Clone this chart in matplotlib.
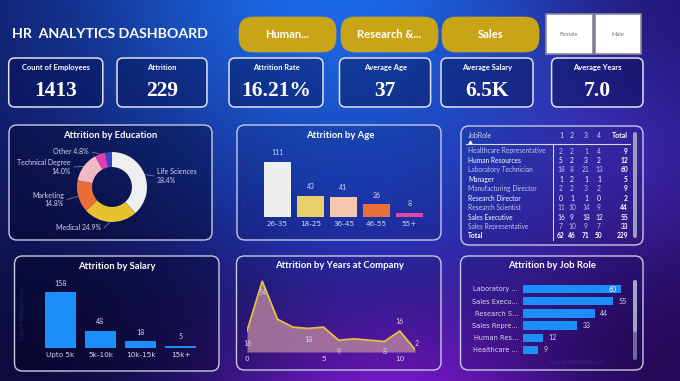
import numpy as np
import matplotlib
matplotlib.use("Agg")
import matplotlib.pyplot as plt
from matplotlib.patches import FancyBboxPatch
from matplotlib import font_manager

W, H = 680, 381

# ---- data ----
kpi_labels = ["Count of Employees", "Attrition", "Attrition Rate",
              "Average Age", "Average Salary", "Average Years"]
kpi_values = ["1413", "229", "16.21%", "37", "6.5K", "7.0"]
departments = ["Human...", "Research &...", "Sales"]
genders = ["Female", "Male"]

edu_labels = ["Life Sciences", "Medical", "Marketing", "Technical Degree", "Other", "Human Resources"]
edu_pct = [38.4, 24.9, 14.8, 14.0, 4.8, 3.1]

age_groups = ["26-35", "18-25", "36-45", "46-55", "55+"]
age_attrition = [111, 43, 41, 26, 8]

salary_bands = ["Upto 5k", "5k-10k", "10k-15k", "15k+"]
salary_attrition = [158, 48, 18, 5]

years = [0, 1, 2, 3, 4, 5, 6, 7, 8, 9, 10, 11]
years_attrition = [16, 54, 25, 19, 18, 19, 9, 10, 9, 8, 16, 2]
years_labelled = [0, 1, 4, 6, 9, 10, 11]

table_roles = ["Healthcare Representative", "Human Resources", "Laboratory Technician",
               "Manager", "Manufacturing Director", "Research Director",
               "Research Scientist", "Sales Executive", "Sales Representative"]
level1 = [2, 5, 18, 1, 2, 0, 11, 16, 7]
level2 = [2, 2, 8, 2, 2, 1, 10, 9, 10]
level3 = [1, 3, 21, 1, 3, 1, 14, 18, 9]
level4 = [4, 2, 13, 1, 2, 0, 9, 12, 7]

job_short = ["Laboratory ...", "Sales Execu...", "Research S...", "Sales Repre...",
             "Human Res...", "Healthcare ..."]
job_attrition = [60, 55, 44, 33, 12, 9]

# ---- fonts ----
names = {f.name for f in font_manager.fontManager.ttflist}
NARROW = "Liberation Sans Narrow" if "Liberation Sans Narrow" in names else "Lato"
SANS = "Lato"
SERIF = "Liberation Serif"
LIGHT = "#d4d6ee"

fig = plt.figure(figsize=(6.8, 3.81), dpi=100)
bg = fig.add_axes([0, 0, 1, 1])
bg.set_xlim(0, W)
bg.set_ylim(H, 0)
bg.axis("off")

# background gradient
yy, xx = np.mgrid[0:H, 0:W].astype(float)
img = np.zeros((H, W, 3))
img[:] = np.array([16, 24, 98]) / 255


def blend(img, cx, cy, sx, sy, color, k=1.0):
    w = k * np.exp(-(((xx - cx) / sx) ** 2 + ((yy - cy) / sy) ** 2))
    c = np.array(color) / 255
    return img * (1 - w[..., None]) + c * w[..., None]


img = blend(img, 600, 170, 170, 190, (72, 38, 185))
img = blend(img, 350, 200, 170, 110, (30, 45, 185), 0.75)
img = blend(img, 390, 405, 230, 120, (130, 22, 210))
img = blend(img, 330, -10, 250, 210, (28, 105, 232))
img = blend(img, 0, 381, 230, 170, (14, 12, 62))
img = blend(img, 690, 381, 170, 170, (38, 8, 88))
img = blend(img, 690, 0, 120, 120, (35, 20, 120), 0.8)
bg.imshow(img, extent=(0, W, H, 0), aspect="auto", zorder=0)


def box(x0, y0, x1, y1, r=8, fc=(0, 0, 0.12, 0.3), ec="#c8cbe0", lw=1.0, z=1):
    p = FancyBboxPatch((x0, y0), x1 - x0, y1 - y0,
                       boxstyle=f"round,pad=0,rounding_size={r}",
                       fc=fc, ec=ec, lw=lw, zorder=z)
    bg.add_patch(p)


def px_axes(x0, y0, x1, y1):
    ax = fig.add_axes([x0 / W, 1 - y1 / H, (x1 - x0) / W, (y1 - y0) / H])
    ax.patch.set_alpha(0)
    for s in ax.spines.values():
        s.set_visible(False)
    return ax


# ---- header ----
bg.text(12, 34, "HR  ANALYTICS DASHBOARD", color="white", fontsize=10.2,
        fontweight="bold", family=NARROW, va="center", ha="left")

btn_x = [(239, 336), (341, 438), (442, 539)]
for (x0, x1), name in zip(btn_x, departments):
    box(x0, 17, x1, 52, r=14, fc="#c8a516", ec="#c8a516", lw=0.5)
    bg.text((x0 + x1) / 2, 35, name, color="white", fontsize=8, fontweight="bold",
            family=NARROW, ha="center", va="center")

for (x0, x1), g in zip([(545.5, 593), (594.5, 640.5)], genders):
    bg.add_patch(FancyBboxPatch((x0, 14), x1 - x0, 40, boxstyle="square,pad=0",
                                fc="white", ec="#8a8a9a", lw=1.2, zorder=2))
    bg.text((x0 + x1) / 2, 35, g, color="#777777", fontsize=4.2, family=SANS,
            ha="center", va="center", zorder=3)

# ---- KPI cards ----
card_x = [(8.7, 102.8), (117, 207), (229, 323), (339.5, 430.6), (441, 533), (551.6, 643)]
for (x0, x1), lab, val in zip(card_x, kpi_labels, kpi_values):
    box(x0, 58, x1, 107, r=6, fc=(0.02, 0.05, 0.3, 0.45), ec="#dfe1ef", lw=1.1)
    bg.text((x0 + x1) / 2, 67.5, lab, color="white", fontsize=5.4, fontweight="bold",
            family=NARROW, ha="center", va="center")
    bg.text((x0 + x1) / 2, 91.5, val, color="white", fontsize=15.5, fontweight="bold",
            family=SERIF, ha="center", va="center")

# ---- panels ----
panels = [(9, 125, 212, 240), (237, 125, 441, 240), (461, 126, 643, 245),
          (14.5, 256, 219, 371), (236.5, 256, 441, 370), (460.5, 256, 643, 370)]
panel_fill = [(0, 0, 0.1, 0.35), (0, 0, 0.1, 0.12), (0, 0, 0.1, 0.08),
              (0, 0, 0.1, 0.35), (0, 0, 0.1, 0.12), (0, 0, 0.1, 0.12)]
for p, fc in zip(panels, panel_fill):
    box(*p, r=8, fc=fc, ec="#c6c9e2", lw=1.0)

titles = [("Attrition by Education", 110.5, 135), ("Attrition by Age", 340, 136),
          ("Attrition by Salary", 117, 266.5), ("Attrition by Years at Company", 339, 265.5),
          ("Attrition by Job Role", 552, 266)]
for t, x, y in titles:
    bg.text(x, y, t, color="white", fontsize=6.8, fontweight="bold", family=NARROW,
            ha="center", va="center")

# ---- education donut ----
edu_colors = ["#efeff2", "#e8c22e", "#ea6e35", "#f3b9c3", "#df3fae", "#3446c4"]
cx, cy, R = 112, 187, 35
axd = px_axes(cx - 40, cy - 40, cx + 40, cy + 40)
axd.pie(edu_pct, colors=edu_colors, startangle=90, counterclock=False, radius=1,
        wedgeprops=dict(width=0.43, edgecolor="none"))
axd.set_xlim(-1.143, 1.143)
axd.set_ylim(-1.143, 1.143)

edu_text_pos = [(157, 176, "left"), (101, 228, "right"), (64, 199.5, "right"),
                (71, 167, "right"), (89, 152, "right")]
cum = 0
for i, pct in enumerate(edu_pct):
    mid = np.deg2rad(90 - 3.6 * (cum + pct / 2))
    cum += pct
    if i >= len(edu_text_pos):
        continue
    tx, ty, ha = edu_text_pos[i]
    ex, ey = cx + R * np.cos(mid), cy - R * np.sin(mid)
    lx = tx - 3 if ha == "left" else tx + 3
    bg.plot([lx, ex], [ty, ey], color="#8a8cb0", lw=0.5, zorder=2)
    if edu_labels[i] in ("Medical", "Other"):
        s = f"{edu_labels[i]} {pct:.1f}%"
    else:
        s = f"{edu_labels[i]}\n{pct:.1f}%"
    bg.text(tx, ty, s, color=LIGHT, fontsize=5, family=SANS, ha=ha, va="center",
            linespacing=1.2, multialignment=ha)

# ---- attrition by age ----
age_colors = ["#eeeeef", "#e9d06a", "#f7c6ae", "#e9703a", "#e446a6"]
axa = px_axes(261, 150, 426, 217)
xa = np.arange(len(age_groups))
axa.bar(xa, age_attrition, width=0.79, color=age_colors)
axa.set_xlim(-0.5, len(age_groups) - 0.5)
axa.set_ylim(0, 135.2)
for x, v in zip(xa, age_attrition):
    axa.annotate(str(v), (x, v), xytext=(0, 4), textcoords="offset points",
                 ha="center", va="bottom", color=LIGHT, fontsize=5, family=SANS)
axa.set_xticks(xa, age_groups)
axa.set_yticks([])
axa.tick_params(axis="x", length=0, pad=3, labelsize=5.2, labelcolor=LIGHT)
bg.text(245, 183, "Sum of AttritionCount", rotation=90, color="#2a2f8a", fontsize=4,
        family=SANS, ha="center", va="center")

# ---- table ----
row_y0, row_dy = 151, 9.44
num_cx = [561, 572, 586, 599]
tot_x = 628
bg.text(468, 136, "JobRole", color=LIGHT, fontsize=5, family=SANS, va="center")
for c, h in zip(num_cx, ["1", "2", "3", "4"]):
    bg.text(c, 136, h, color=LIGHT, fontsize=5, family=SANS, ha="center", va="center")
bg.text(tot_x, 136, "Total", color="white", fontsize=5, fontweight="bold", family=SANS,
        ha="right", va="center")
bg.plot(470, 141.5, marker="^", ms=2, color="white", zorder=3)
bg.plot([466, 630], [144, 144], color="#dcdcf0", lw=0.8, zorder=3)
bg.plot([553, 553], [145, 240], color="#dcdcf0", lw=0.7, zorder=3)
levels = [level1, level2, level3, level4]
for i, role in enumerate(table_roles):
    y = row_y0 + i * row_dy
    col = "#bfc3ec" if i % 2 == 0 else "white"
    bg.text(468, y, role, color=col, fontsize=4.8, family=SANS, va="center")
    for c, lv in zip(num_cx, levels):
        bg.text(c, y, str(lv[i]), color=col, fontsize=4.8, family=SANS,
                ha="center", va="center")
    total = sum(lv[i] for lv in levels)
    bg.text(tot_x, y, str(total), color="white", fontsize=4.8, fontweight="bold",
            family=SANS, ha="right", va="center")
y = row_y0 + len(table_roles) * row_dy
bg.text(468, y, "Total", color="white", fontsize=4.8, fontweight="bold", family=SANS, va="center")
for c, lv in zip(num_cx, levels):
    bg.text(c, y, str(sum(lv)), color="white", fontsize=4.8, fontweight="bold",
            family=SANS, ha="center", va="center")
bg.text(tot_x, y, str(sum(sum(lv) for lv in levels)), color="white", fontsize=4.8,
        fontweight="bold", family=SANS, ha="right", va="center")
box(633, 132, 637, 238, r=2, fc="#9a9cc0", ec="none", lw=0, z=3)

# ---- attrition by salary ----
axs = px_axes(40.5, 280, 200.5, 347.7)
xs = np.arange(len(salary_bands))
axs.bar(xs, salary_attrition, width=0.79, color="#1c8ef8")
axs.set_xlim(-0.5, len(salary_bands) - 0.5)
axs.set_ylim(0, 193)
for x, v in zip(xs, salary_attrition):
    axs.annotate(str(v), (x, v), xytext=(0, 4), textcoords="offset points",
                 ha="center", va="bottom", color=LIGHT, fontsize=5, family=SANS)
axs.set_xticks(xs, salary_bands)
axs.set_yticks([])
axs.tick_params(axis="x", length=0, pad=3, labelsize=5.2, labelcolor=LIGHT)
bg.text(23, 313, "Sum of AttritionCount", rotation=90, color="#1e2370", fontsize=4,
        family=SANS, ha="center", va="center")

# ---- attrition by years at company ----
axy = px_axes(247, 275, 415, 352)
axy.fill_between(years, years_attrition, color="#b07e9e", alpha=0.85, lw=0)
axy.plot(years, years_attrition, color="#e8c23e", lw=1.3)
axy.set_xlim(0, 11)
axy.set_ylim(0, 58.8)
label_offsets = {0: (0, -9), 1: (0, -8), 4: (0, -8), 6: (0, -8), 9: (0, -7), 10: (0, 7), 11: (1, 4)}
for i in years_labelled:
    dx, dy = label_offsets[i]
    axy.annotate(str(years_attrition[i]), (years[i], years_attrition[i]), xytext=(dx, dy),
                 textcoords="offset points", ha="center", va="center",
                 color=LIGHT, fontsize=5, family=SANS)
axy.set_xticks([0, 5, 10])
axy.set_yticks([])
axy.tick_params(axis="x", length=0, pad=3, labelsize=5.2, labelcolor=LIGHT)

# ---- attrition by job role ----
axj = px_axes(523, 282.9, 640, 356.1)
yj = np.arange(len(job_short))
axj.barh(yj, job_attrition, height=0.68, color="#1c8ef8")
axj.set_ylim(len(job_short) - 0.5, -0.5)
axj.set_xlim(0, 71.6)
for y, v in zip(yj, job_attrition):
    if v == max(job_attrition):
        axj.annotate(str(v), (v, y), xytext=(-3, 0), textcoords="offset points",
                     ha="right", va="center", color="white", fontsize=5, family=SANS)
    else:
        axj.annotate(str(v), (v, y), xytext=(4, 0), textcoords="offset points",
                     ha="left", va="center", color=LIGHT, fontsize=5, family=SANS)
axj.set_yticks(yj, job_short)
axj.set_xticks([])
axj.tick_params(axis="y", length=0, pad=3.6, labelsize=4.8, labelcolor=LIGHT)
bg.text(577, 363, "Sum of AttritionCount", color="#3a2a8e", fontsize=4, family=SANS,
        ha="center", va="center")
box(633, 280, 637, 360, r=2, fc="#6e6a9e", ec="none", lw=0, z=3)
box(633, 280, 637, 332, r=2, fc="#a4a6c6", ec="none", lw=0, z=3)

fig.savefig("out.png", dpi=100)
